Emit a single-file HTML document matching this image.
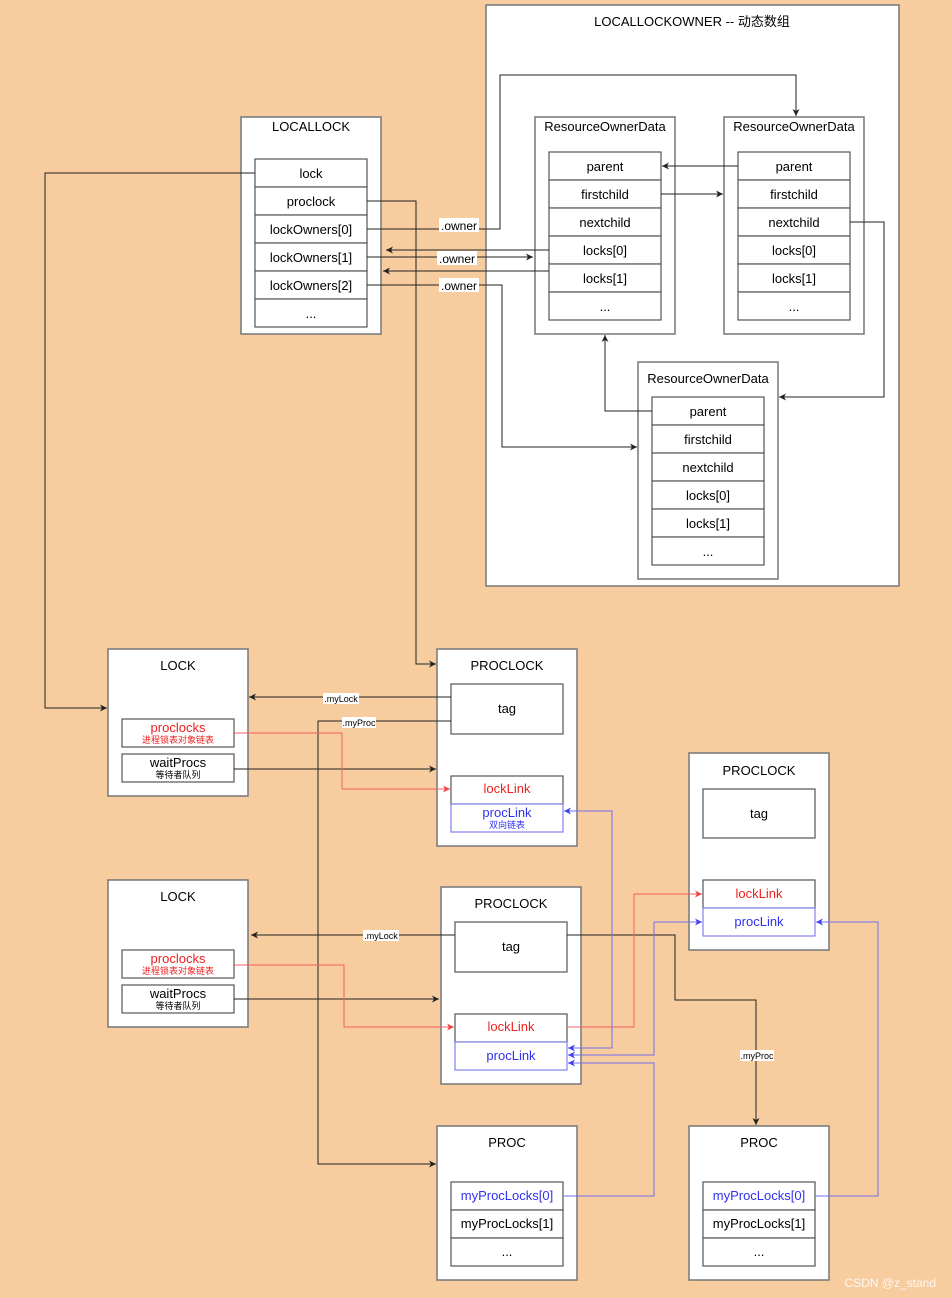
<!DOCTYPE html>
<html><head><meta charset="utf-8"><style>
html,body{margin:0;padding:0;background:#F7CDA0;}
svg{display:block;font-family:"Liberation Sans","Noto Sans CJK SC",sans-serif;fill:#000}
.b{fill:#fff;stroke:#777;stroke-width:1.5}
.r{fill:#fff;stroke:#555;stroke-width:1.2}
.t{font-size:13px;text-anchor:middle}
.k{fill:none;stroke:#222;stroke-width:1}
.red{fill:none;stroke:#f06060;stroke-width:1}
.blu{fill:none;stroke:#7070f0;stroke-width:1}
.lb{font-size:12px;text-anchor:middle}
.sm{font-size:9px;text-anchor:middle}
</style></head><body>
<svg width="952" height="1298" viewBox="0 0 952 1298" xmlns="http://www.w3.org/2000/svg">
<defs>
<marker id="ak" markerWidth="8" markerHeight="8" refX="7" refY="4" orient="auto" markerUnits="userSpaceOnUse"><path d="M0,0.5 L7,4 L0,7.5 L2,4z" fill="#222"/></marker>
<marker id="ar" markerWidth="8" markerHeight="8" refX="7" refY="4" orient="auto" markerUnits="userSpaceOnUse"><path d="M0,0.5 L7,4 L0,7.5 L2,4z" fill="#f04040"/></marker>
<marker id="ab" markerWidth="8" markerHeight="8" refX="7" refY="4" orient="auto" markerUnits="userSpaceOnUse"><path d="M0,0.5 L7,4 L0,7.5 L2,4z" fill="#4040f0"/></marker>
<marker id="abs" markerWidth="8" markerHeight="8" refX="0" refY="4" orient="auto" markerUnits="userSpaceOnUse"><path d="M7,0.5 L0,4 L7,7.5 L5,4z" fill="#4040f0"/></marker>
</defs>
<rect width="952" height="1298" fill="#F7CDA0"/>

<rect class="b" x="486" y="5" width="413" height="581"/>
<text class="t" x="692" y="26">LOCALLOCKOWNER -- 动态数组</text>

<rect class="b" x="241" y="117" width="140" height="217"/>
<text class="t" x="311" y="131">LOCALLOCK</text>
<rect class="r" x="255" y="159" width="112" height="28"/><text class="t" x="311" y="178">lock</text>
<rect class="r" x="255" y="187" width="112" height="28"/><text class="t" x="311" y="206">proclock</text>
<rect class="r" x="255" y="215" width="112" height="28"/><text class="t" x="311" y="234">lockOwners[0]</text>
<rect class="r" x="255" y="243" width="112" height="28"/><text class="t" x="311" y="262">lockOwners[1]</text>
<rect class="r" x="255" y="271" width="112" height="28"/><text class="t" x="311" y="290">lockOwners[2]</text>
<rect class="r" x="255" y="299" width="112" height="28"/><text class="t" x="311" y="318">...</text>

<rect class="b" x="535" y="117" width="140" height="217"/>
<text class="t" x="605" y="131">ResourceOwnerData</text>
<rect class="r" x="549" y="152" width="112" height="28"/><text class="t" x="605" y="171">parent</text>
<rect class="r" x="549" y="180" width="112" height="28"/><text class="t" x="605" y="199">firstchild</text>
<rect class="r" x="549" y="208" width="112" height="28"/><text class="t" x="605" y="227">nextchild</text>
<rect class="r" x="549" y="236" width="112" height="28"/><text class="t" x="605" y="255">locks[0]</text>
<rect class="r" x="549" y="264" width="112" height="28"/><text class="t" x="605" y="283">locks[1]</text>
<rect class="r" x="549" y="292" width="112" height="28"/><text class="t" x="605" y="311">...</text>

<rect class="b" x="724" y="117" width="140" height="217"/>
<text class="t" x="794" y="131">ResourceOwnerData</text>
<rect class="r" x="738" y="152" width="112" height="28"/><text class="t" x="794" y="171">parent</text>
<rect class="r" x="738" y="180" width="112" height="28"/><text class="t" x="794" y="199">firstchild</text>
<rect class="r" x="738" y="208" width="112" height="28"/><text class="t" x="794" y="227">nextchild</text>
<rect class="r" x="738" y="236" width="112" height="28"/><text class="t" x="794" y="255">locks[0]</text>
<rect class="r" x="738" y="264" width="112" height="28"/><text class="t" x="794" y="283">locks[1]</text>
<rect class="r" x="738" y="292" width="112" height="28"/><text class="t" x="794" y="311">...</text>

<rect class="b" x="638" y="362" width="140" height="217"/>
<text class="t" x="708" y="383">ResourceOwnerData</text>
<rect class="r" x="652" y="397" width="112" height="28"/><text class="t" x="708" y="416">parent</text>
<rect class="r" x="652" y="425" width="112" height="28"/><text class="t" x="708" y="444">firstchild</text>
<rect class="r" x="652" y="453" width="112" height="28"/><text class="t" x="708" y="472">nextchild</text>
<rect class="r" x="652" y="481" width="112" height="28"/><text class="t" x="708" y="500">locks[0]</text>
<rect class="r" x="652" y="509" width="112" height="28"/><text class="t" x="708" y="528">locks[1]</text>
<rect class="r" x="652" y="537" width="112" height="28"/><text class="t" x="708" y="556">...</text>

<rect class="b" x="108" y="649" width="140" height="147"/>
<text class="t" x="178" y="670">LOCK</text>
<rect class="r" x="122" y="719" width="112" height="28"/>
<text class="lb" x="178" y="732" fill="#f02020" style="font-size:13px">proclocks</text>
<text class="sm" x="178" y="743" fill="#f02020">进程锁表对象链表</text>
<rect class="r" x="122" y="754" width="112" height="28"/>
<text class="lb" x="178" y="767" style="font-size:13px">waitProcs</text>
<text class="sm" x="178" y="778">等待者队列</text>

<rect class="b" x="437" y="649" width="140" height="197"/>
<text class="t" x="507" y="670">PROCLOCK</text>
<rect class="r" x="451" y="684" width="112" height="50"/><text class="t" x="507" y="713">tag</text>
<rect class="r" x="451" y="776" width="112" height="28"/><text class="t" x="507" y="793" fill="#f02020">lockLink</text>
<rect x="451" y="804" width="112" height="28" fill="#fff" stroke="#8080f0" stroke-width="1.2"/>
<text class="lb" x="507" y="817" fill="#3030f0" style="font-size:13px">procLink</text>
<text class="sm" x="507" y="828" fill="#3030f0">双向链表</text>

<rect class="b" x="689" y="753" width="140" height="197"/>
<text class="t" x="759" y="775">PROCLOCK</text>
<rect class="r" x="703" y="789" width="112" height="49"/><text class="t" x="759" y="818">tag</text>
<rect class="r" x="703" y="880" width="112" height="28"/><text class="t" x="759" y="898" fill="#f02020">lockLink</text>
<rect x="703" y="908" width="112" height="28" fill="#fff" stroke="#8080f0" stroke-width="1.2"/>
<text class="t" x="759" y="926" fill="#3030f0">procLink</text>

<rect class="b" x="108" y="880" width="140" height="147"/>
<text class="t" x="178" y="901">LOCK</text>
<rect class="r" x="122" y="950" width="112" height="28"/>
<text class="lb" x="178" y="963" fill="#f02020" style="font-size:13px">proclocks</text>
<text class="sm" x="178" y="974" fill="#f02020">进程锁表对象链表</text>
<rect class="r" x="122" y="985" width="112" height="28"/>
<text class="lb" x="178" y="998" style="font-size:13px">waitProcs</text>
<text class="sm" x="178" y="1009">等待者队列</text>

<rect class="b" x="441" y="887" width="140" height="197"/>
<text class="t" x="511" y="908">PROCLOCK</text>
<rect class="r" x="455" y="922" width="112" height="50"/><text class="t" x="511" y="951">tag</text>
<rect class="r" x="455" y="1014" width="112" height="28"/><text class="t" x="511" y="1031" fill="#f02020">lockLink</text>
<rect x="455" y="1042" width="112" height="28" fill="#fff" stroke="#8080f0" stroke-width="1.2"/>
<text class="t" x="511" y="1060" fill="#3030f0">procLink</text>

<rect class="b" x="437" y="1126" width="140" height="154"/>
<text class="t" x="507" y="1147">PROC</text>
<rect class="r" x="451" y="1182" width="112" height="28"/><text class="t" x="507" y="1200" fill="#3030f0">myProcLocks[0]</text>
<rect class="r" x="451" y="1210" width="112" height="28"/><text class="t" x="507" y="1228">myProcLocks[1]</text>
<rect class="r" x="451" y="1238" width="112" height="28"/><text class="t" x="507" y="1256">...</text>

<rect class="b" x="689" y="1126" width="140" height="154"/>
<text class="t" x="759" y="1147">PROC</text>
<rect class="r" x="703" y="1182" width="112" height="28"/><text class="t" x="759" y="1200" fill="#3030f0">myProcLocks[0]</text>
<rect class="r" x="703" y="1210" width="112" height="28"/><text class="t" x="759" y="1228">myProcLocks[1]</text>
<rect class="r" x="703" y="1238" width="112" height="28"/><text class="t" x="759" y="1256">...</text>

<path class="k" d="M255,173 H45 V708 H107" marker-end="url(#ak)"/>
<path class="k" d="M367,201 H416 V664 H436" marker-end="url(#ak)"/>
<path class="k" d="M367,229 H500 V75 H796 V116" marker-end="url(#ak)"/>
<path class="k" d="M549,250 H386" marker-end="url(#ak)"/>
<path class="k" d="M367,257 H533" marker-end="url(#ak)"/>
<path class="k" d="M549,271 H383" marker-end="url(#ak)"/>
<path class="k" d="M367,285 H502 V447 H637" marker-end="url(#ak)"/>
<path class="k" d="M738,166 H662" marker-end="url(#ak)"/>
<path class="k" d="M661,194 H723" marker-end="url(#ak)"/>
<path class="k" d="M850,222 H884 V397 H779" marker-end="url(#ak)"/>
<path class="k" d="M652,411 H605 V335" marker-end="url(#ak)"/>
<rect x="439" y="218" width="40" height="14" fill="#fff"/><text x="459" y="230" class="lb">.owner</text>
<rect x="437" y="251" width="40" height="14" fill="#fff"/><text x="457" y="263" class="lb">.owner</text>
<rect x="439" y="278" width="40" height="14" fill="#fff"/><text x="459" y="290" class="lb">.owner</text>

<path class="k" d="M451,697 H249" marker-end="url(#ak)"/>
<rect x="323" y="693" width="36" height="11" fill="#fff"/><text x="341" y="702" class="sm">.myLock</text>
<path class="k" d="M451,721 H318 V1164 H436" marker-end="url(#ak)"/>
<rect x="342" y="717" width="34" height="11" fill="#fff"/><text x="359" y="726" class="sm">.myProc</text>
<path class="k" d="M234,769 H436" marker-end="url(#ak)"/>

<path class="k" d="M455,935 H251" marker-end="url(#ak)"/>
<rect x="363" y="930" width="36" height="11" fill="#fff"/><text x="381" y="939" class="sm">.myLock</text>
<path class="k" d="M567,935 H675 V1000 H756 V1125" marker-end="url(#ak)"/>
<rect x="740" y="1050" width="34" height="11" fill="#fff"/><text x="757" y="1059" class="sm">.myProc</text>
<path class="k" d="M234,999 H439" marker-end="url(#ak)"/>

<path class="red" d="M234,733 H342 V789 H450" marker-end="url(#ar)"/>
<path class="red" d="M234,965 H344 V1027 H454" marker-end="url(#ar)"/>
<path class="red" d="M567,1027 H634 V894 H702" marker-end="url(#ar)"/>

<path class="blu" d="M568,1048 H612 V811 H564" marker-start="url(#abs)" marker-end="url(#ab)"/>
<path class="blu" d="M568,1055 H654 V922 H702" marker-start="url(#abs)" marker-end="url(#ab)"/>
<path class="blu" d="M563,1196 H654 V1063 H568" marker-end="url(#ab)"/>
<path class="blu" d="M815,1196 H878 V922 H816" marker-end="url(#ab)"/>

<text x="936" y="1287" style="font-size:12px;fill:#fff;text-anchor:end;opacity:0.85">CSDN @z_stand</text>
</svg>
</body></html>
